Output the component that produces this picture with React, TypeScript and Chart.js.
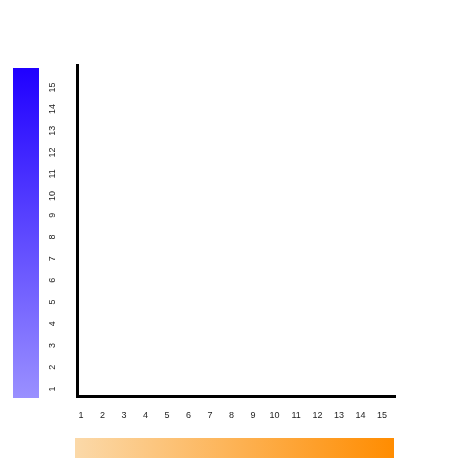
import { useEffect, useRef } from 'react';
import { Chart, registerables } from 'chart.js';

Chart.register(...registerables);

const xTicks = [1, 2, 3, 4, 5, 6, 7, 8, 9, 10, 11, 12, 13, 14, 15];
const yTicks = [1, 2, 3, 4, 5, 6, 7, 8, 9, 10, 11, 12, 13, 14, 15];
const xRange = [0.81, 15.6];
const yRange = [0.56, 15.8];
const blueRamp = ['#9a90ff', '#2000ff'];
const orangeRamp = ['#fbd9a9', '#ff8c00'];

// colour ramps beside the axes
const rampPlugin = {
  id: 'ramps',
  beforeDraw(chart: Chart) {
    const { ctx, chartArea: a } = chart;
    ctx.save();
    const bx = a.left - 64;
    const bTop = a.top + 3;
    const bBot = a.bottom + 2;
    const g1 = ctx.createLinearGradient(0, bBot, 0, bTop);
    g1.addColorStop(0, blueRamp[0]);
    g1.addColorStop(1, blueRamp[1]);
    ctx.fillStyle = g1;
    ctx.fillRect(bx, bTop, 26, bBot - bTop);

    const oLeft = a.left - 2;
    const oTop = a.bottom + 42;
    const g2 = ctx.createLinearGradient(oLeft, 0, a.right, 0);
    g2.addColorStop(0, orangeRamp[0]);
    g2.addColorStop(1, orangeRamp[1]);
    ctx.fillStyle = g2;
    ctx.fillRect(oLeft, oTop, a.right - oLeft - 1, 20);
    ctx.restore();
  },
};

export default function App() {
  const canvasRef = useRef<HTMLCanvasElement>(null);

  useEffect(() => {
    const canvas = canvasRef.current;
    if (!canvas) return;
    const font = { family: 'Liberation Sans, Arial, sans-serif', size: 9 };
    const chart = new Chart(canvas, {
      type: 'scatter',
      data: { datasets: [{ data: [] }] },
      options: {
        animation: false,
        responsive: true,
        maintainAspectRatio: false,
        layout: { padding: { left: 0, top: 65, right: 79, bottom: 0 } },
        plugins: { legend: { display: false }, tooltip: { enabled: false } },
        scales: {
          x: {
            type: 'linear',
            min: xRange[0],
            max: xRange[1],
            grid: { display: false, drawTicks: false },
            border: { color: '#000', width: 3 },
            afterBuildTicks: (s) => {
              s.ticks = xTicks.map((v) => ({ value: v }));
            },
            afterFit: (s) => {
              s.height = 78;
            },
            ticks: { color: '#222', font, padding: 14, maxRotation: 0, autoSkip: false },
          },
          y: {
            type: 'linear',
            min: yRange[0],
            max: yRange[1],
            grid: { display: false, drawTicks: false },
            border: { color: '#000', width: 3 },
            afterBuildTicks: (s) => {
              s.ticks = yTicks.map((v) => ({ value: v }));
            },
            afterFit: (s) => {
              s.width = 77;
            },
            ticks: {
              color: '#222',
              font,
              padding: 24,
              minRotation: 90,
              maxRotation: 90,
              autoSkip: false,
            },
          },
        },
      },
      plugins: [rampPlugin],
    });
    return () => chart.destroy();
  }, []);

  return (
    <div style={{ position: 'fixed', left: 0, top: 0, width: 474, height: 474, background: '#fff' }}>
      <canvas ref={canvasRef} />
    </div>
  );
}
